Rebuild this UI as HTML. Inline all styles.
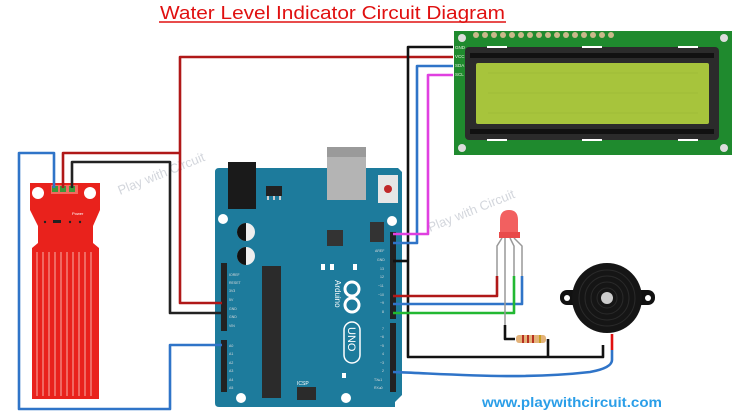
<!DOCTYPE html>
<html><head><meta charset="utf-8"><style>
html,body{margin:0;padding:0;background:#fff;}
svg{display:block;}
</style></head><body>
<svg width="740" height="416" viewBox="0 0 740 416" xmlns="http://www.w3.org/2000/svg" font-family="Liberation Sans, sans-serif">
<rect width="740" height="416" fill="#fff"/>
<!-- title -->
<text x="160" y="19" font-size="18" fill="#e01010" font-family="Liberation Sans, sans-serif" textLength="345" lengthAdjust="spacingAndGlyphs">Water Level Indicator Circuit Diagram</text>
<line x1="159" y1="22" x2="506" y2="22" stroke="#e01010" stroke-width="1.5"/>

<!-- watermarks -->
<g fill="#c8ccd4" font-size="13" opacity="0.8">
<text transform="translate(120,195) rotate(-22)">Play with Circuit</text>
<text transform="translate(430,232) rotate(-22)">Play with Circuit</text>
<text transform="translate(265,385) rotate(-40)">Play with Circuit</text>
</g>

<!-- LCD -->
<rect x="454" y="31" width="278" height="124" fill="#1f8a2e"/>
<g fill="#c9b98a">
<circle cx="476" cy="35" r="3"/><circle cx="485" cy="35" r="3"/><circle cx="494" cy="35" r="3"/><circle cx="503" cy="35" r="3"/><circle cx="512" cy="35" r="3"/><circle cx="521" cy="35" r="3"/><circle cx="530" cy="35" r="3"/><circle cx="539" cy="35" r="3"/><circle cx="548" cy="35" r="3"/><circle cx="557" cy="35" r="3"/><circle cx="566" cy="35" r="3"/><circle cx="575" cy="35" r="3"/><circle cx="584" cy="35" r="3"/><circle cx="593" cy="35" r="3"/><circle cx="602" cy="35" r="3"/><circle cx="611" cy="35" r="3"/>
</g>
<g fill="#ddd"><circle cx="462" cy="38" r="4"/><circle cx="724" cy="38" r="4"/><circle cx="462" cy="148" r="4"/><circle cx="724" cy="148" r="4"/></g>
<rect x="465" y="47" width="254" height="93" rx="4" fill="#2b2b2b"/>
<rect x="470" y="53" width="244" height="5" fill="#111"/>
<rect x="470" y="129" width="244" height="5" fill="#111"/>
<rect x="476" y="63" width="233" height="61" rx="2" fill="#a7c43c"/>
<g stroke="#97b232" stroke-width="0.6">
<line x1="488" y1="73" x2="698" y2="73"/><line x1="488" y1="93" x2="698" y2="93"/><line x1="488" y1="113" x2="698" y2="113"/>
</g>
<g fill="#fff"><rect x="487" y="46" width="20" height="2"/><rect x="582" y="46" width="20" height="2"/><rect x="678" y="46" width="20" height="2"/><rect x="487" y="139" width="20" height="2"/><rect x="582" y="139" width="20" height="2"/><rect x="678" y="139" width="20" height="2"/></g>
<g fill="#e8f0e0" font-size="4.5"><text x="455" y="49">GND</text><text x="455" y="58">VCC</text><text x="455" y="67">SDA</text><text x="455" y="76">SCL</text></g>

<!-- Arduino -->
<path d="M215,172 Q215,168 219,168 L398,168 L402,172 L402,395 L395,402 L395,407 L219,407 Q215,407 215,403 Z" fill="#1d7b9c"/>
<rect x="228" y="162" width="28" height="47" fill="#1a1a1a"/>
<rect x="327" y="147" width="39" height="53" fill="#b4b4b4"/>
<rect x="327" y="147" width="39" height="10" fill="#9a9a9a"/>
<rect x="378" y="175" width="20" height="28" fill="#e6e6e6"/>
<circle cx="388" cy="189" r="4" fill="#c0282a"/>
<rect x="266" y="186" width="16" height="10" fill="#222"/>
<rect x="267" y="196" width="2" height="4" fill="#ccc"/><rect x="273" y="196" width="2" height="4" fill="#ccc"/><rect x="279" y="196" width="2" height="4" fill="#ccc"/>
<circle cx="223" cy="219" r="5" fill="#fff"/><circle cx="392" cy="221" r="5" fill="#fff"/><circle cx="241" cy="398" r="5" fill="#fff"/><circle cx="346" cy="398" r="5" fill="#fff"/>
<circle cx="246" cy="232" r="9" fill="#eee"/><path d="M246,223 A9,9 0 0 0 246,241 Z" fill="#111"/>
<circle cx="246" cy="256" r="9" fill="#eee"/><path d="M246,247 A9,9 0 0 0 246,265 Z" fill="#111"/>
<rect x="327" y="230" width="16" height="16" fill="#333"/>
<rect x="370" y="222" width="14" height="20" fill="#333"/>
<rect x="262" y="266" width="19" height="132" fill="#2b2b2b"/>
<rect x="321" y="264" width="4" height="6" fill="#fff"/><rect x="330" y="264" width="4" height="6" fill="#fff"/><rect x="353" y="264" width="4" height="6" fill="#fff"/>
<g fill="none" stroke="#fff" stroke-width="3"><circle cx="352" cy="289" r="7"/><circle cx="352" cy="305" r="7"/></g>
<rect x="344" y="322" width="16" height="41" rx="8" fill="none" stroke="#fff" stroke-width="1.5"/>
<text transform="translate(348,327) rotate(90)" font-size="11" fill="#fff">UNO</text>
<text transform="translate(335,280) rotate(90)" font-size="8" fill="#fff">Arduino</text>
<rect x="297" y="387" width="19" height="13" fill="#2b2b2b"/>
<text x="297" y="385" font-size="5" fill="#fff">ICSP</text>
<rect x="342" y="373" width="4" height="5" fill="#fff"/>
<rect x="221" y="263" width="6" height="68" fill="#222"/>
<rect x="221" y="340" width="6" height="52" fill="#222"/>
<rect x="390" y="232" width="6" height="87" fill="#222"/>
<rect x="390" y="323" width="6" height="69" fill="#222"/>
<g fill="#ddd" font-size="3.5">
<text x="229" y="276">IOREF</text><text x="229" y="284">RESET</text><text x="229" y="292">3V3</text><text x="229" y="301">5V</text><text x="229" y="310">GND</text><text x="229" y="318">GND</text><text x="229" y="327">VIN</text>
<text x="229" y="347">A0</text><text x="229" y="355">A1</text><text x="229" y="364">A2</text><text x="229" y="372">A3</text><text x="229" y="381">A4</text><text x="229" y="389">A5</text>
<text x="375" y="252">AREF</text><text x="377" y="261">GND</text><text x="380" y="270">13</text><text x="380" y="278">12</text><text x="378" y="287">~11</text><text x="378" y="296">~10</text><text x="380" y="304">~9</text><text x="382" y="313">8</text>
<text x="382" y="330">7</text><text x="380" y="338">~6</text><text x="380" y="347">~5</text><text x="382" y="355">4</text><text x="380" y="364">~3</text><text x="382" y="372">2</text><text x="374" y="381">TX▸1</text><text x="374" y="389">RX◂0</text>
</g>

<!-- Sensor -->
<path d="M30,183 L100,183 L100,210 L93,226 L93,243 L99,248 L99,399 L32,399 L32,248 L38,243 L38,226 L30,210 Z" fill="#e9221c"/>
<circle cx="38" cy="193" r="6" fill="#fff"/><circle cx="90" cy="193" r="6" fill="#fff"/>
<rect x="51" y="185" width="27" height="9" fill="#f26a5e"/>
<rect x="52" y="186" width="6" height="6" fill="#3a9a3a"/><rect x="60" y="186" width="6" height="6" fill="#3a9a3a"/><rect x="69" y="186" width="6" height="6" fill="#3a9a3a"/>
<rect x="53" y="220" width="8" height="3" fill="#222"/><circle cx="45" cy="222" r="1.2" fill="#222"/><circle cx="70" cy="222" r="1.2" fill="#222"/><circle cx="80" cy="222" r="1.2" fill="#222"/>
<text x="72" y="215" font-size="4" fill="#fff">Power</text>
<g stroke="#f7b0a8" stroke-width="1" fill="none">
<line x1="37" y1="252" x2="37" y2="396"/><line x1="43" y1="252" x2="43" y2="396"/><line x1="49" y1="252" x2="49" y2="396"/><line x1="55" y1="252" x2="55" y2="396"/><line x1="61" y1="252" x2="61" y2="396"/><line x1="67" y1="252" x2="67" y2="396"/><line x1="73" y1="252" x2="73" y2="396"/><line x1="79" y1="252" x2="79" y2="396"/><line x1="85" y1="252" x2="85" y2="396"/><line x1="91" y1="252" x2="91" y2="396"/>
</g>

<!-- wires -->
<g fill="none" stroke-width="2.6" stroke-linejoin="round">
<polyline stroke="#b01818" points="453,57 180,57 180,303 222,303"/>
<polyline stroke="#b01818" points="63,188 63,153 180,153"/>
<polyline stroke="#222" points="72,188 72,162 170,162 170,313 222,313"/>
<polyline stroke="#2f74c8" points="54,188 54,153 19,153 19,409 170,409 170,345 222,345"/>
<polyline stroke="#111" points="453,47 408,47 408,357 603,357 603,345"/>
<polyline stroke="#111" points="393,261 408,261"/>
<polyline stroke="#2f74c8" points="453,66 417,66 417,243 393,243"/>
<polyline stroke="#e040e0" points="453,75 428,75 428,234 393,234"/>
<polyline stroke="#b01818" points="393,296 497,296 497,276"/>
<polyline stroke="#2f74c8" points="393,304 522,304 522,276"/>
<polyline stroke="#22b832" points="393,313 514,313 514,276"/>
<polyline stroke="#111" points="505,325 505,339 515,339"/>
<polyline stroke="#111" points="548,339 548,357"/>
<path stroke="#2f74c8" d="M393,372 C450,374 520,380 590,372 Q612,368 612,360 L612,350"/>
<polyline stroke="#e01010" points="612,334 612,350"/>
</g>
<!-- LED -->
<g stroke="#999" stroke-width="1.5" fill="none">
<polyline points="502,238 497,246 497,276"/><line x1="505" y1="238" x2="505" y2="325"/><polyline points="510,238 514,246 514,276"/><polyline points="514,238 522,246 522,276"/>
</g>
<path d="M500,220 Q500,210 509,210 Q518,210 518,220 L518,238 L500,238 Z" fill="#f26060"/>
<rect x="499" y="232" width="21" height="6" fill="#e84a4a"/>
<!-- resistor -->
<rect x="516" y="335" width="30" height="8" rx="3" fill="#e3b27a"/>
<g fill="#b83020"><rect x="522" y="335" width="2" height="8"/><rect x="527" y="335" width="2" height="8"/><rect x="532" y="335" width="2" height="8"/></g>
<rect x="539" y="335" width="2" height="8" fill="#c8a020"/>
<!-- buzzer -->
<rect x="560" y="290" width="95" height="15" rx="7" fill="#111"/>
<circle cx="567" cy="298" r="3" fill="#fff"/><circle cx="648" cy="298" r="3" fill="#fff"/>
<circle cx="607" cy="298" r="35" fill="#151515"/>
<g fill="none" stroke="#2a2a2a" stroke-width="1"><circle cx="607" cy="298" r="28"/><circle cx="607" cy="298" r="22"/><circle cx="607" cy="298" r="16"/><circle cx="607" cy="298" r="10"/></g>
<circle cx="607" cy="298" r="6" fill="#ccc"/>

<text x="482" y="407" font-size="14" font-weight="bold" fill="#2a9ee8" textLength="180" lengthAdjust="spacingAndGlyphs">www.playwithcircuit.com</text>
</svg>
</body></html>
